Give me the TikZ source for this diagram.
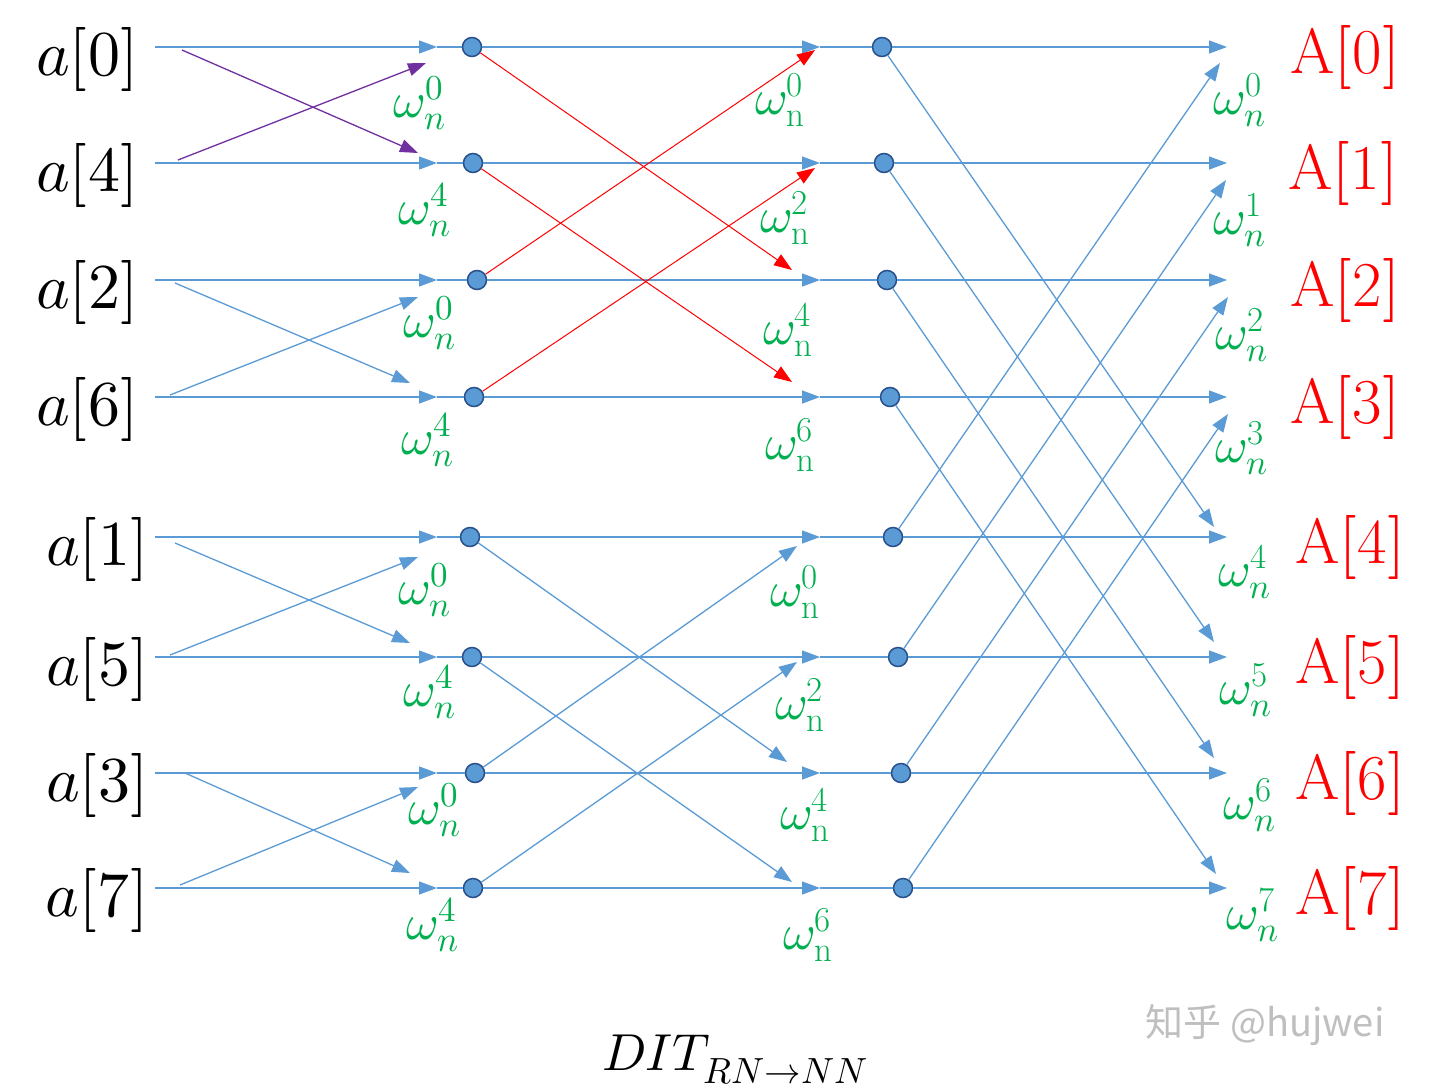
\documentclass[tikz,border=0pt]{standalone}
\usepackage{fontspec}
\usepackage{unicode-math}
\setmathfont{Latin Modern Math}
\newfontfamily\cjk{Noto Sans CJK SC}
\usetikzlibrary{arrows.meta}
\definecolor{lb}{RGB}{91,155,213}
\definecolor{db}{RGB}{40,80,140}
\definecolor{pu}{RGB}{112,48,160}
\definecolor{gr}{RGB}{0,176,80}
\tikzset{
 ln/.style={lb,line width=1.3pt},
 arr/.style={ln,-{Triangle[length=18pt,width=13pt]}},
 dotn/.style={circle,draw=db,fill=lb,line width=1.5pt,minimum size=19pt,inner sep=0pt},
 wl/.style={gr,font=\fontsize{50}{52}\selectfont,inner sep=0pt},
 lab/.style={font=\fontsize{64}{68}\selectfont},
}
\begin{document}
\begin{tikzpicture}[x=1pt,y=-1pt]
\useasboundingbox (0,0) rectangle (1440,1092);
\fill[white] (0,0) rectangle (1440,1092);
% rows
\foreach \i/\y/\ax/\txt/\da/\db/\Ax/\Tx in {
 0/47/87/0/472/882/1345/0, 1/163/87/4/473/884/1343/1, 2/280/87/2/477/887/1345/2, 3/397/87/6/474/890/1345/3,
 4/537/97/1/470/893/1350/4, 5/657/97/5/472/898/1350/5, 6/773/97/3/475/901/1350/6, 7/888/97/7/473/903/1350/7}{
 \node[lab,anchor=center] (a\i) at (\ax,\y+12) {$a[\txt]$};
 \node[lab,red,anchor=center] (A\i) at (\Ax,\y+10) {$\mathrm{A[\Tx]}$};
 \coordinate (s\i) at (155,\y);
 \coordinate (p\i) at (437,\y);
 \coordinate (q\i) at (820,\y);
 \coordinate (r\i) at (1227,\y);
 \node[dotn] (d\i) at (\da,\y) {};
 \node[dotn] (e\i) at (\db,\y) {};
 \draw[arr] (s\i) -- (p\i);
 \draw[ln] (p\i) -- (d\i);
 \draw[arr] (d\i) -- (q\i);
 \draw[ln] (q\i) -- (e\i);
 \draw[arr] (e\i) -- (r\i);
}
% stage 1 crossings
\coordinate (c0) at (182,50); \coordinate (t0) at (418,153);
\coordinate (c1) at (178,160); \coordinate (t1) at (426,63);
\draw[arr,pu] (c0) -- (t0);
\draw[arr,pu] (c1) -- (t1);
\foreach \u/\l/\ys/\yt/\xs in {2/3/283/395/175, 4/5/543/655/175, 6/7/773/885/185}{
 \coordinate (cu\u) at (\xs,\ys); \coordinate (tu\u) at (410,\yt-12);
 \coordinate (cl\u) at (\xs-5,\yt); \coordinate (tl\u) at (418,\ys+14);
 \draw[arr] (cu\u) -- (tu\u);
 \draw[arr] (cl\u) -- (tl\u);
}
% stage 2
\coordinate (m0) at (792,270); \coordinate (m1) at (792,382);
\coordinate (m2) at (815,50); \coordinate (m3) at (815,168);
\draw[arr,red,line width=1pt] (d0) -- (m0);
\draw[arr,red,line width=1pt] (d1) -- (m1);
\draw[arr,red,line width=1pt] (d2) -- (m2);
\draw[arr,red,line width=1pt] (d3) -- (m3);
\coordinate (m4) at (787,762); \coordinate (m5) at (792,882);
\coordinate (m6) at (797,546); \coordinate (m7) at (797,662);
\draw[arr] (d4) -- (m4);
\draw[arr] (d5) -- (m5);
\draw[arr] (d6) -- (m6);
\draw[arr] (d7) -- (m7);
% stage 3
\coordinate (n0) at (1214,527); \coordinate (n1) at (1214,642);
\coordinate (n2) at (1214,758); \coordinate (n3) at (1216,874);
\coordinate (n4) at (1220,63); \coordinate (n5) at (1226,180);
\coordinate (n6) at (1228,297); \coordinate (n7) at (1228,414);
\foreach \k in {0,...,7}{\draw[arr] (e\k) -- (n\k);}
% omega labels
\foreach \x/\y/\k in {420/103/0,425/210/4,430/323/0,428/440/4,425/590/0,430/692/4,435/810/0,433/925/4}{
 \node[wl] at (\x,\y) {$\omega_{n}^{\k}$};}
\foreach \x/\y/\k in {780/100/0,785/218/2,788/330/4,790/445/6,795/592/0,800/705/2,805/815/4,808/935/6}{
 \node[wl] at (\x,\y) {$\omega_{\mathrm{n}}^{\mathrm{\k}}$};}
\foreach \x/\y/\k in {1240/100/0,1240/220/1,1242/335/2,1242/448/3,1245/572/4,1246/690/5,1250/805/6,1253/915/7}{
 \node[wl] at (\x,\y) {$\omega_{n}^{\mathrm{\k}}$};}
\node[font=\fontsize{52}{56}\selectfont] (dit) at (735,1060) {$DIT_{RN\to NN}$};
\node[gray!50,font=\cjk\fontsize{38}{42}\selectfont] (wm) at (1265,1025) {知乎 @hujwei};
\end{tikzpicture}
\end{document}
